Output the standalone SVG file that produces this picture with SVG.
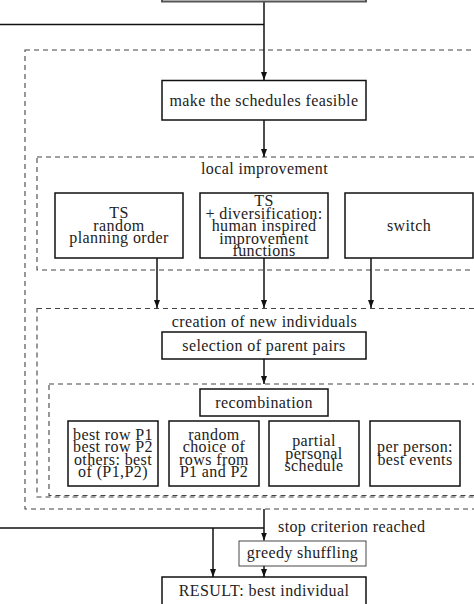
<svg xmlns="http://www.w3.org/2000/svg" width="474" height="604" viewBox="0 0 474 604">
<style>
text{font-family:"Liberation Serif","Times New Roman",serif;font-size:16px;fill:#222;text-anchor:middle;letter-spacing:0.4px}
.box{fill:#fff;stroke:#111;stroke-width:1.5}
.thin{fill:#fff;stroke:#333;stroke-width:0.9}
.dash{fill:none;stroke:#444;stroke-width:1.1;stroke-dasharray:5 4}
.ln{fill:none;stroke:#111;stroke-width:1.5}
.ar{fill:none;stroke:#111;stroke-width:1.5;marker-end:url(#ah)}
</style>
<defs>
<marker id="ah" markerWidth="8" markerHeight="10" refX="8" refY="4" orient="auto" markerUnits="userSpaceOnUse" viewBox="0 0 8 8">
<path d="M0,1 L8,4 L0,7 Z" fill="#111"/>
</marker>
</defs>
<rect width="474" height="604" fill="#fff"/>
<g id="containers">
<rect class="dash" x="25" y="50" width="460" height="459"/>
<rect class="dash" x="37" y="157" width="448" height="113"/>
<rect class="dash" x="37" y="308.5" width="448" height="188.5"/>
<rect class="dash" x="49" y="384" width="436" height="111.5"/>
<text x="264.5" y="174">local improvement</text>
<text x="264.5" y="327">creation of new individuals</text>
</g>
<g id="connectors">
<line class="ln" x1="0" y1="24.5" x2="264" y2="24.5"/>
<line class="ar" x1="264" y1="0" x2="264" y2="80"/>
<line class="ar" x1="264" y1="120" x2="264" y2="157"/>
<line class="ar" x1="157" y1="258" x2="157" y2="308"/>
<line class="ar" x1="264" y1="258" x2="264" y2="308"/>
<line class="ar" x1="371" y1="258" x2="371" y2="308"/>
<line class="ar" x1="264" y1="359" x2="264" y2="384"/>
<line class="ln" x1="0" y1="528" x2="264" y2="528"/>
<line class="ar" x1="264" y1="509" x2="264" y2="540.5"/>
<line class="ar" x1="213" y1="528" x2="213" y2="577"/>
<line class="ar" x1="264" y1="566" x2="264" y2="577"/>
</g>
<g id="top">
<rect x="162" y="-20" width="204" height="21.5" fill="#fff" stroke="#555" stroke-width="2"/>
</g>
<g id="feasible">
<rect class="box" x="162" y="80.5" width="204" height="39.5"/>
<text x="264" y="106">make the schedules feasible</text>
</g>
<g id="ts-random">
<rect class="box" x="55" y="193" width="128" height="65"/>
<text x="119" y="218">TS</text>
<text x="119" y="230.5">random</text>
<text x="119" y="243">planning order</text>
</g>
<g id="ts-div">
<rect class="box" x="200" y="193" width="128" height="65"/>
<text x="264" y="206">TS</text>
<text x="264" y="218.5">+ diversification:</text>
<text x="264" y="231">human inspired</text>
<text x="264" y="243.5">improvement</text>
<text x="264" y="256">functions</text>
</g>
<g id="switch">
<rect class="box" x="345" y="193" width="128" height="65"/>
<text x="409" y="231">switch</text>
</g>
<g id="selection">
<rect class="box" x="162" y="332" width="204" height="27"/>
<text x="264" y="350.5">selection of parent pairs</text>
</g>
<g id="recombination">
<rect class="box" x="200" y="389" width="128" height="27"/>
<text x="264" y="408">recombination</text>
</g>
<g id="best-row">
<rect class="box" x="68" y="421" width="90" height="65"/>
<text x="113" y="440">best row P1</text>
<text x="113" y="452.3">best row P2</text>
<text x="113" y="464.7">others: best</text>
<text x="113" y="477">of (P1,P2)</text>
</g>
<g id="random-choice">
<rect class="box" x="169" y="421" width="90" height="65"/>
<text x="214" y="440">random</text>
<text x="214" y="452.3">choice of</text>
<text x="214" y="464.7">rows from</text>
<text x="214" y="477">P1 and P2</text>
</g>
<g id="partial">
<rect class="box" x="269" y="421" width="90" height="65"/>
<text x="314" y="446">partial</text>
<text x="314" y="458.5">personal</text>
<text x="314" y="471">schedule</text>
</g>
<g id="per-person">
<rect class="box" x="370" y="421" width="90" height="65"/>
<text x="415" y="452">per person:</text>
<text x="415" y="465">best events</text>
</g>
<g id="stop">
<text x="278" y="532" style="text-anchor:start">stop criterion reached</text>
</g>
<g id="greedy">
<rect class="thin" x="239" y="541" width="127" height="25"/>
<text x="302.5" y="558">greedy shuffling</text>
</g>
<g id="result">
<rect class="box" x="162" y="577" width="204" height="40"/>
<text x="264" y="596">RESULT: best individual</text>
</g>
</svg>
